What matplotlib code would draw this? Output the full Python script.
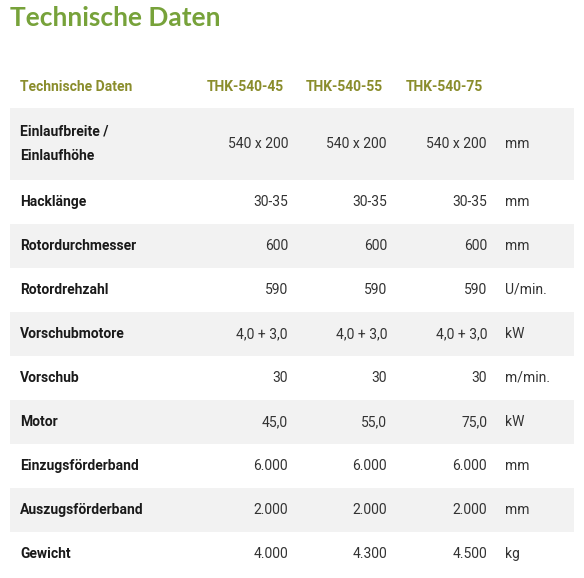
import matplotlib
matplotlib.use("Agg")
import matplotlib.pyplot as plt
from matplotlib.patches import Rectangle

columns = ["THK-540-45", "THK-540-55", "THK-540-75"]
labels = ["Einlaufbreite /\nEinlaufhöhe", "Hackl\u00e4nge", "Rotordurchmesser", "Rotordrehzahl",
          "Vorschubmotore", "Vorschub", "Motor", "Einzugsf\u00f6rderband", "Auszugsf\u00f6rderband", "Gewicht"]
col1 = ["540 x 200", "30-35", "600", "590", "4,0 + 3,0", "30", "45,0", "6.000", "2.000", "4.000"]
col2 = ["540 x 200", "30-35", "600", "590", "4,0 + 3,0", "30", "55,0", "6.000", "2.000", "4.300"]
col3 = ["540 x 200", "30-35", "600", "590", "4,0 + 3,0", "30", "75,0", "6.000", "2.000", "4.500"]
units = ["mm", "mm", "mm", "U/min.", "kW", "m/min.", "kW", "mm", "mm", "kg"]

fig = plt.figure(figsize=(5.84, 5.78), dpi=100)
ax = fig.add_axes([0, 0, 1, 1])
ax.set_xlim(0, 584); ax.set_ylim(578, 0); ax.axis("off")
fam = ["Roboto", "DejaVu Sans"]

ax.text(10, 18, "Technische Daten", fontsize=19, fontweight="bold", color="#77a23a",
        va="center", ha="left", family=["Lato", "DejaVu Sans"])
hc = "#8a8d2c"
ax.text(20, 87, "Technische Daten", fontsize=10, fontweight="bold", color=hc, va="center", family=fam)
for x, c in zip([207, 306, 406], columns):
    ax.text(x, 87, c, fontsize=10, fontweight="bold", color=hc, va="center", family=fam)

heights = [72] + [44] * 9
y = 108
for i, h in enumerate(heights):
    if i % 2 == 0:
        ax.add_patch(Rectangle((10, y), 564, h, color="#f2f2f2", lw=0))
    yc = y + h / 2
    ax.text(20, yc, labels[i], fontsize=10, fontweight="bold", color="#1a1a1a", va="center",
            family=fam, linespacing=2.0)
    for x, col in zip([288, 387, 487], [col1, col2, col3]):
        ax.text(x, yc, col[i], fontsize=10, color="#333333", va="center", ha="right", family=fam)
    ax.text(505, yc, units[i], fontsize=10, color="#333333", va="center", family=fam)
    y += h

fig.savefig("out.png", dpi=100)
